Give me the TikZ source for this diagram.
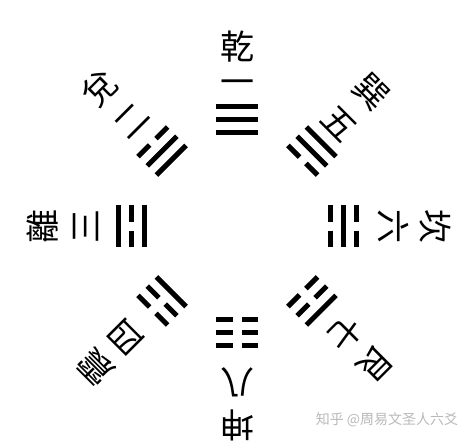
\documentclass[tikz,border=0pt]{standalone}
\usepackage{fontspec}
\usetikzlibrary{calc}
\newfontfamily\cjk{Noto Sans CJK TC}

% one line of a trigram: #1 radial offset, #2 1 = solid, 0 = broken
\newcommand{\yao}[2]{%
    \ifnum#2=1
        \draw[yaoline] (-\halflen,#1) -- (\halflen,#1);
    \else
        \draw[yaoline] (-\halflen,#1) -- (-\halfgap,#1);
        \draw[yaoline] (\halfgap,#1) -- (\halflen,#1);
    \fi}

% trigram at angle #1, lines #2 #3 #4 from inner to outer
\newcommand{\trigram}[4]{%
    \begin{scope}[shift={(cen)}, rotate=#1-90]
        \yao{\rtri-\yaosep}{#2}
        \yao{\rtri}{#3}
        \yao{\rtri+\yaosep}{#4}
    \end{scope}}

\begin{document}
\begin{tikzpicture}[
            x=1pt, y=1pt,
            yaoline/.style={line width=5pt, black},
            gualabel/.style={font=\cjk\fontsize{34}{34}\selectfont, inner sep=0pt},
            watermark/.style={font=\cjk\fontsize{14}{14}\selectfont, gray!55, inner sep=0pt}
        ]
        \useasboundingbox (0,0) rectangle (474,440);

        \def\rtri{106}
        \def\yaosep{13}
        \def\halflen{21}
        \def\halfgap{4.5}

        \coordinate (cen) at (237,214);

        %% Qian, top
        \trigram{90}{1}{1}{1}
        \node[gualabel, rotate=0] (qiannum) at ($(cen)+(90:139)$) {一};
        \node[gualabel, rotate=0] (qian) at ($(cen)+(90:179)$) {乾};

        %% Dui, top left
        \trigram{135}{1}{1}{0}
        \node[gualabel, rotate=45] (duinum) at ($(cen)+(135:148)$) {二};
        \node[gualabel, rotate=45] (dui) at ($(cen)+(135:195)$) {兌};

        %% Li, left
        \trigram{180}{1}{0}{1}
        \node[gualabel, rotate=90] (linum) at ($(cen)+(180:151)$) {三};
        \node[gualabel, rotate=90] (li) at ($(cen)+(180:194)$) {離};

        %% Zhen, bottom left
        \trigram{-135}{1}{0}{0}
        \node[gualabel, rotate=135] (zhennum) at ($(cen)+(-135:157)$) {四};
        \node[gualabel, rotate=135] (zhen) at ($(cen)+(-135:199)$) {震};

        %% Xun, top right
        \trigram{45}{0}{1}{1}
        \node[gualabel, rotate=-45] (xunnum) at ($(cen)+(45:144)$) {五};
        \node[gualabel, rotate=-45] (xun) at ($(cen)+(45:190)$) {巽};

        %% Kan, right
        \trigram{0}{0}{1}{0}
        \node[gualabel, rotate=-90] (kannum) at ($(cen)+(0:156)$) {六};
        \node[gualabel, rotate=-90] (kan) at ($(cen)+(0:198)$) {坎};

        %% Gen, bottom right
        \trigram{-45}{0}{0}{1}
        \node[gualabel, rotate=-135] (gennum) at ($(cen)+(-45:153)$) {七};
        \node[gualabel, rotate=-135] (gen) at ($(cen)+(-45:195)$) {艮};

        %% Kun, bottom
        \trigram{-90}{0}{0}{0}
        \node[gualabel, rotate=180] (kunnum) at ($(cen)+(-90:156)$) {八};
        \node[gualabel, rotate=180] (kun) at ($(cen)+(-90:199)$) {坤};

        \node[watermark] (mark) at (387,20) {知乎 @周易文圣人六爻};

    \end{tikzpicture}
\end{document}
